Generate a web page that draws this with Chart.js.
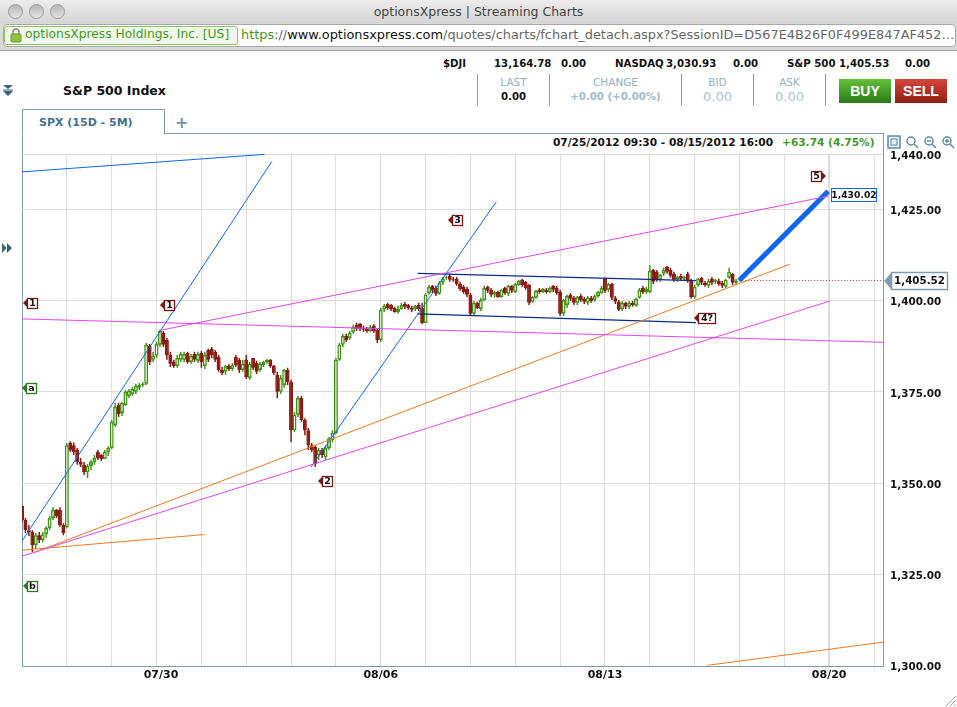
<!DOCTYPE html>
<html>
<head>
<meta charset="utf-8">
<title>optionsXpress | Streaming Charts</title>
<script src="https://cdn.jsdelivr.net/npm/chart.js@4"></script>
<style>
html, body { margin: 0; padding: 0; background: #fff; }
body { width: 957px; height: 707px; overflow: hidden; position: relative; font-family: 'DejaVu Sans', Verdana, sans-serif; }
.abs { position: absolute; white-space: nowrap; }
.b { font-weight: bold; font-size: 10.2px; color: #111; }
.sep { position: absolute; width: 1px; top: 74px; height: 32px; background: #7fa3b8; }
.hd { font-size: 10.5px; color: #8fb1c5; text-align: center; }
.dot { position: absolute; top: 4px; width: 13px; height: 13px; border-radius: 50%; background: linear-gradient(#b5b5b5, #e4e4e4); border: 1px solid #9b9b9b; }
.btn { position: absolute; top: 79px; width: 52px; height: 24px; color: #fff; font: bold 14px 'Liberation Sans', Arial, sans-serif; text-align: center; line-height: 24px; }
canvas { position: absolute; left: 0; top: 0; }
</style>
</head>
<body>
<div class="abs" style="left:0;top:0;width:957px;height:23px;background:linear-gradient(#ececec,#d4d4d4)"></div>
<div class="dot" style="left:8px"></div>
<div class="dot" style="left:29px"></div>
<div class="dot" style="left:50px"></div>
<div class="abs" style="left:0;width:957px;top:4px;text-align:center;font-size:12.5px;color:#444">optionsXpress | Streaming Charts</div>
<div class="abs" style="left:0;top:23px;width:957px;height:27px;background:#d9d9d9;border-bottom:1px solid #9c9c9c"></div>
<div class="abs" style="left:3px;top:24px;width:951px;height:21px;background:#fff;border:1px solid #a8a8a8;border-radius:4px"></div>
<div class="abs" style="left:4px;top:26px;width:232px;height:17px;background:#f1f8ea;border:1px solid #8cc06a;border-radius:3px"></div>
<svg class="abs" style="left:9px;top:27px" width="14" height="16"><path d="M4 8V5a3 3 0 0 1 6 0v3" fill="none" stroke="#888" stroke-width="1.5"/><rect x="2" y="7" width="10" height="8" rx="1" fill="#8fc23f" stroke="#6b9a2c"/></svg>
<div class="abs" style="left:25px;top:27px;font-size:12.3px;color:#3f9a1f">optionsXpress Holdings, Inc. [US]</div>
<div class="abs" style="left:241px;top:27px;font-size:12.9px;color:#666"><span style="color:#3f9a1f">https</span>://<span style="color:#111">www.optionsxpress.com</span>/quotes/charts/fchart_detach.aspx?SessionID=D567E4B26F0F499E847AF452…</div>

<div class="abs b" style="left:443px;top:58px">$DJI</div>
<div class="abs b" style="left:494px;top:58px">13,164.78</div>
<div class="abs b" style="left:561px;top:58px">0.00</div>
<div class="abs b" style="left:615px;top:58px">NASDAQ</div>
<div class="abs b" style="left:666px;top:58px">3,030.93</div>
<div class="abs b" style="left:733px;top:58px">0.00</div>
<div class="abs b" style="left:787px;top:58px">S&amp;P 500</div>
<div class="abs b" style="left:839px;top:58px">1,405.53</div>
<div class="abs b" style="left:905px;top:58px">0.00</div>

<svg class="abs" style="left:3px;top:85px" width="11" height="12"><path d="M0 0H10L5 4ZM0 6H10L5 11Z M0 4.6H10V5.6H0Z" fill="#34607f"/></svg>
<div class="abs" style="left:63px;top:83px;font-size:12.5px;font-weight:bold;color:#111">S&amp;P 500 Index</div>

<div class="sep" style="left:477px"></div>
<div class="sep" style="left:549px"></div>
<div class="sep" style="left:681px"></div>
<div class="sep" style="left:753px"></div>
<div class="sep" style="left:825px"></div>
<div class="abs hd" style="left:478px;width:71px;top:76px">LAST</div>
<div class="abs b" style="left:478px;width:71px;top:91px;text-align:center">0.00</div>
<div class="abs hd" style="left:550px;width:131px;top:76px">CHANGE</div>
<div class="abs b" style="left:550px;width:131px;top:91px;text-align:center;color:#9dbccd">+0.00 (+0.00%)</div>
<div class="abs hd" style="left:682px;width:71px;top:76px">BID</div>
<div class="abs" style="left:682px;width:71px;top:89px;text-align:center;font-size:13px;color:#a9c4d3">0.00</div>
<div class="abs hd" style="left:754px;width:71px;top:76px">ASK</div>
<div class="abs" style="left:754px;width:71px;top:89px;text-align:center;font-size:13px;color:#a9c4d3">0.00</div>
<div class="btn" style="left:839px;background:linear-gradient(#62bf3a,#2c7a18)">BUY</div>
<div class="btn" style="left:895px;background:linear-gradient(#d5463a,#8f1f14)">SELL</div>

<div class="abs" style="left:22px;top:133px;width:860px;height:532px;border:1px solid #7c9db2;background:#fff"></div>
<div class="abs" style="left:22px;top:109px;width:141px;height:24px;border:1px solid #7c9db2;border-bottom:1px solid #fff;background:#fff"></div>
<div class="abs" style="left:39px;top:116px;font-size:11px;font-weight:bold;color:#44708f">SPX (15D - 5M)</div>
<div class="abs" style="left:175px;top:113px;font-size:16px;font-weight:bold;color:#6f93a8">+</div>
<div class="abs b" style="left:553px;top:136px;font-size:10.6px">07/25/2012 09:30 - 08/15/2012 16:00</div>
<div class="abs b" style="left:782px;top:136px;font-size:10.6px;color:#3f9a1f">+63.74 (4.75%)</div>

<svg class="abs" style="left:887px;top:135px" width="68" height="16">
<rect x="1" y="1" width="12" height="12" fill="#e3edf2" stroke="#5f8aa3" stroke-width="1.5"/><rect x="4" y="4" width="6" height="6" fill="none" stroke="#5f8aa3"/>
<g fill="none" stroke="#5f8aa3" stroke-width="1.5"><circle cx="24" cy="6" r="4"/><path d="M27 9l4 4"/><circle cx="42" cy="6" r="4"/><path d="M45 9l4 4M40 6h4"/><circle cx="60" cy="6" r="4"/><path d="M63 9l4 4M58 6h4M60 4v4"/></g>
</svg>
<svg class="abs" style="left:2px;top:243px" width="11" height="10"><path d="M0 0L4.5 5L0 10ZM5 0L10 5L5 10Z" fill="#34607f"/></svg>
<svg class="abs" style="left:945px;top:695px" width="12" height="12"><path d="M11 1L1 11M11 5L5 11M11 9L9 11" stroke="#aaa" fill="none"/></svg>

<canvas id="spxChart" width="957" height="707"></canvas>

<script>
// 30 min candles, 13 per session, 07/25 - 08/15
const opens = [
  1343.7,1339.9,1337.1,1336.6,1333.0,1335.7,1334.4,1336.0,1337.7,1340.4,1342.7,1342.7,1338.5,
  1337.9,1361.0,1360.4,1359.1,1355.8,1355.0,1353.0,1354.7,1355.8,1358.5,1357.7,1356.6,1358.5,
  1359.6,1365.9,1371.4,1369.2,1371.4,1373.9,1374.4,1375.0,1376.1,1376.9,1377.2,1387.6,1383.8,
  1384.9,1387.9,1391.2,1389.2,1385.1,1383.2,1382.1,1383.8,1383.8,1385.7,1383.2,1385.4,1383.5,
  1385.7,1382.1,1386.5,1386.8,1386.0,1384.6,1381.0,1380.5,1382.1,1381.3,1384.6,1383.8,1381.0,
  1383.8,1378.8,1384.3,1382.9,1381.0,1382.4,1383.2,1383.8,1382.1,1379.6,1375.0,1376.9,1381.0,
  1377.7,1364.5,1368.7,1373.3,1367.3,1364.5,1360.4,1359.9,1357.7,1359.1,1357.1,1359.6,1361.8,
  1363.7,1383.8,1387.9,1390.3,1389.8,1391.4,1393.4,1393.6,1392.5,1392.3,1391.7,1393.1,1392.0,
  1389.2,1397.5,1399.1,1398.8,1398.0,1396.9,1397.7,1399.1,1398.8,1398.0,1397.7,1398.8,1398.0,
  1393.9,1402.1,1404.1,1403.5,1401.9,1404.9,1406.3,1406.8,1406.0,1406.0,1404.6,1403.8,1403.2,
  1401.6,1396.4,1399.4,1397.7,1400.2,1403.8,1403.0,1401.6,1402.4,1401.0,1403.5,1401.9,1404.1,
  1402.4,1404.3,1405.7,1405.2,1404.3,1399.7,1400.8,1403.0,1402.4,1403.0,1402.4,1404.1,1403.5,
  1402.4,1396.4,1398.8,1401.6,1400.8,1399.4,1401.3,1400.5,1399.4,1400.8,1400.2,1401.3,1402.1,
  1406.0,1403.0,1404.6,1400.8,1399.7,1397.7,1399.4,1398.3,1399.4,1398.6,1400.8,1403.5,1402.4,
  1402.4,1408.4,1407.9,1405.7,1407.4,1409.3,1408.4,1407.4,1405.7,1406.8,1406.0,1407.4,1405.7,
  1401.0,1404.3,1406.3,1404.9,1404.1,1406.0,1405.2,1405.4,1404.9,1403.8,1406.3,1407.4,1404.9
];
const highs = [
  1344.0,1340.4,1338.5,1337.1,1336.3,1336.6,1336.6,1338.2,1341.0,1343.4,1342.9,1343.4,1339.0,
  1361.0,1361.5,1361.2,1359.6,1356.9,1355.8,1355.2,1356.3,1357.7,1359.1,1358.0,1359.1,1360.1,
  1367.3,1372.0,1372.0,1372.2,1375.5,1375.8,1376.4,1377.2,1377.4,1377.7,1388.4,1388.1,1386.0,
  1388.7,1392.0,1391.7,1389.8,1386.0,1383.8,1385.1,1386.0,1386.0,1386.0,1385.4,1386.0,1386.0,
  1386.2,1386.0,1386.8,1387.3,1386.5,1385.1,1381.8,1382.4,1382.7,1382.9,1385.1,1384.3,1383.8,
  1385.1,1383.2,1384.3,1383.5,1383.2,1383.5,1384.0,1384.0,1382.4,1380.5,1379.6,1381.3,1381.6,
  1378.3,1369.5,1373.9,1373.9,1367.8,1365.1,1361.0,1360.4,1359.6,1359.6,1360.4,1362.6,1364.5,
  1384.3,1388.4,1390.9,1390.9,1391.7,1393.4,1393.9,1393.9,1393.1,1392.8,1393.4,1393.6,1392.5,
  1398.0,1399.1,1399.4,1399.1,1398.3,1398.6,1399.4,1399.7,1399.1,1398.6,1398.8,1399.4,1399.4,
  1402.1,1404.3,1404.3,1404.1,1405.4,1406.5,1406.8,1407.4,1406.5,1406.5,1405.2,1404.3,1403.8,
  1402.1,1399.9,1399.7,1400.8,1404.1,1404.1,1403.5,1402.7,1402.7,1403.2,1403.8,1404.3,1404.3,
  1404.9,1405.7,1406.0,1405.4,1404.6,1401.3,1403.0,1403.5,1403.5,1403.5,1403.8,1404.3,1404.1,
  1403.0,1400.5,1401.6,1402.1,1401.3,1401.3,1401.9,1401.0,1401.3,1401.3,1401.6,1402.7,1404.1,
  1406.3,1404.9,1404.9,1401.3,1400.2,1399.9,1399.7,1399.9,1399.9,1400.8,1403.5,1404.1,1403.8,
  1409.8,1408.7,1408.4,1407.4,1409.0,1409.5,1409.0,1407.9,1406.8,1407.4,1406.8,1407.9,1406.0,
  1404.3,1406.3,1406.5,1405.4,1406.0,1406.5,1406.0,1406.0,1405.4,1406.0,1409.0,1407.6,1406.0
];
const lows = [
  1339.3,1336.3,1335.5,1331.1,1331.9,1333.6,1333.8,1335.0,1337.1,1339.9,1340.4,1338.0,1335.7,
  1337.6,1358.5,1357.7,1355.0,1354.4,1352.2,1351.4,1353.6,1355.0,1356.3,1356.0,1356.6,1357.4,
  1359.3,1365.4,1368.1,1368.4,1371.1,1373.3,1373.9,1374.4,1375.5,1376.4,1376.9,1382.4,1383.2,
  1384.3,1387.3,1387.3,1383.8,1381.8,1381.6,1381.6,1383.2,1383.2,1382.7,1382.7,1383.2,1382.9,
  1381.6,1381.3,1383.2,1384.3,1383.2,1380.5,1379.6,1379.6,1380.7,1380.7,1381.8,1380.2,1380.5,
  1378.5,1378.3,1381.0,1379.9,1380.5,1381.8,1382.7,1381.6,1379.6,1373.3,1374.4,1376.1,1376.9,
  1361.2,1364.0,1368.1,1366.8,1363.1,1359.1,1358.5,1354.4,1356.3,1356.9,1356.3,1359.1,1361.2,
  1363.4,1383.5,1387.3,1388.7,1389.2,1390.9,1391.7,1391.7,1391.4,1391.2,1391.4,1391.2,1388.4,
  1388.7,1396.9,1397.5,1397.2,1396.7,1396.4,1397.5,1397.7,1397.5,1396.9,1397.2,1397.2,1393.6,
  1393.9,1401.6,1402.1,1401.3,1401.6,1404.3,1405.7,1405.2,1405.2,1404.1,1402.7,1401.9,1401.0,
  1395.8,1396.1,1397.7,1397.2,1399.9,1402.1,1401.0,1400.8,1400.8,1400.8,1401.6,1401.3,1402.1,
  1402.1,1404.1,1403.8,1403.0,1398.8,1399.4,1400.5,1401.9,1402.1,1401.9,1402.1,1402.4,1401.6,
  1395.8,1395.8,1398.0,1399.9,1398.8,1398.8,1399.7,1399.1,1398.8,1399.4,1399.7,1400.8,1401.9,
  1402.1,1402.4,1400.2,1399.1,1397.2,1397.2,1397.7,1397.7,1398.3,1398.3,1400.5,1401.9,1401.9,
  1402.1,1404.6,1405.2,1405.2,1406.8,1407.4,1406.3,1405.2,1405.2,1405.4,1405.4,1404.9,1400.5,
  1400.5,1403.8,1404.3,1403.8,1403.5,1404.3,1404.6,1404.1,1403.5,1403.5,1406.0,1404.3,1404.3
];
const closes = [
  1339.9,1337.1,1336.6,1333.0,1335.7,1334.4,1336.0,1337.7,1340.4,1342.7,1341.0,1338.5,1336.3,
  1360.4,1359.1,1358.5,1355.8,1355.0,1353.0,1354.7,1355.8,1356.9,1356.9,1356.6,1358.5,1359.6,
  1366.8,1370.9,1368.9,1372.0,1375.0,1375.3,1375.8,1376.6,1376.9,1377.2,1387.9,1383.2,1384.9,
  1388.1,1391.7,1387.9,1385.1,1382.7,1382.1,1384.3,1385.4,1385.4,1383.2,1384.9,1383.8,1385.4,
  1383.2,1385.1,1383.8,1385.1,1383.8,1381.0,1380.2,1382.1,1381.3,1382.4,1382.4,1381.0,1382.7,
  1379.1,1382.7,1381.6,1380.5,1382.7,1383.2,1383.8,1382.1,1380.2,1375.0,1378.8,1381.0,1377.7,
  1364.5,1368.7,1373.3,1367.3,1364.5,1360.4,1359.1,1355.2,1359.1,1357.7,1359.6,1362.3,1363.7,
  1383.8,1387.9,1390.3,1389.2,1391.2,1392.8,1392.3,1392.3,1392.0,1391.7,1392.8,1391.7,1389.2,
  1397.5,1398.6,1398.0,1397.7,1396.9,1397.7,1398.8,1398.3,1398.0,1397.5,1398.6,1397.7,1393.9,
  1401.6,1403.8,1402.7,1401.9,1404.9,1406.0,1406.5,1405.7,1405.7,1404.6,1403.2,1402.4,1401.6,
  1396.4,1399.4,1398.0,1400.2,1403.5,1402.7,1401.6,1402.4,1401.0,1403.0,1402.1,1404.1,1402.7,
  1404.6,1405.4,1404.3,1403.5,1399.4,1401.0,1402.7,1402.4,1403.2,1402.4,1403.5,1403.0,1402.1,
  1396.4,1400.2,1401.3,1400.5,1399.4,1401.0,1400.2,1399.7,1400.8,1399.9,1401.3,1402.4,1403.5,
  1402.7,1404.6,1400.8,1399.7,1397.5,1399.4,1398.3,1399.4,1398.8,1400.5,1403.0,1402.4,1403.2,
  1408.2,1405.2,1405.7,1407.1,1408.4,1407.9,1406.8,1405.7,1406.5,1406.0,1406.5,1405.4,1401.0,
  1403.8,1406.0,1404.9,1404.3,1405.4,1404.9,1405.7,1404.6,1404.1,1405.7,1407.9,1404.9,1405.52
];

// drawn lines: [bar, price, bar, price]
const blueLines = [[0, 1435.3, 70.3, 1440.1], [0, 1334.1, 72.4, 1438.1], [83.8, 1354.4, 137.5, 1427.1]];
const forecastLine = [207.9, 1405.52, 233.7, 1430.02];
const magentaLines = [[0, 1395.0, 249.6, 1388.6], [40.2, 1391.9, 233.9, 1428.7], [0, 1330.0, 234.2, 1399.9]];
const orangeLines = [[3.1, 1330.8, 222.6, 1410.0], [0, 1331.6, 52.9, 1335.9], [198.3, 1300.0, 249.6, 1306.4]];
const navyLines = [[114.7, 1407.5, 195.4, 1405.5], [114.7, 1396.4, 195.4, 1394.0]];
const lastLine = [207.9, 1405.52, 249.6, 1405.52];

// wave counts on the chart
const markerLabels = ['1', '1', 'a', 'b', '2', '3', '4?', '5'];
const markerBars = [0.2, 39.9, 0.1, 0.2, 85.7, 123.6, 194.9, 233.1];
const markerPrices = [1399.4, 1398.8, 1376.1, 1321.7, 1350.6, 1422.2, 1395.3, 1434.1];
const markerColors = ['#7a1712', '#7a1712', '#2f7a1a', '#2f7a1a', '#7a1712', '#7a1712', '#7a1712', '#7a1712'];

const dayBars = [13, 26, 39, 52, 65, 78, 91, 104, 117, 130, 143, 156, 169, 182, 195, 208, 221, 234, 247];
const xTickLabels = ['07/30', '08/06', '08/13', '08/20'];
const xLabelBars = [40.3, 104, 169, 234];
const yTickValues = [1300, 1325, 1350, 1375, 1400, 1425, 1440];
const yTickLabels = ['1,300.00', '1,325.00', '1,350.00', '1,375.00', '1,400.00', '1,425.00', '1,440.00'];

const RED = '#8b1a12';
const GREEN = '#3f9414';
const GRID = '#dcdcdc';
const FONT = "'DejaVu Sans', Verdana, sans-serif";

function lineSet(seg, color, width, dash) {
    return {
        type: 'line',
        data: [{x: seg[0], y: seg[1]}, {x: seg[2], y: seg[3]}],
        borderColor: color,
        borderWidth: width,
        borderDash: dash || [],
        pointRadius: 0,
        order: 0
    };
}

const candleBars = opens.map((o, i) => i);
const isUp = opens.map((o, i) => closes[i] >= o);

const datasets = [
    {
        label: 'wick',
        data: candleBars.map(i => ({x: i, y: [lows[i], highs[i]]})),
        backgroundColor: isUp.map(u => u ? GREEN : RED),
        borderWidth: 0,
        inflateAmount: 0,
        barThickness: 1.5,
        grouped: false,
        order: 2
    },
    {
        label: 'body',
        data: candleBars.map(i => ({x: i, y: [opens[i], closes[i]]})),
        backgroundColor: isUp.map(u => u ? '#fff' : RED),
        borderColor: isUp.map(u => u ? GREEN : RED),
        borderWidth: 1.5,
        borderSkipped: false,
        inflateAmount: 0,
        barThickness: 4,
        grouped: false,
        order: 1
    }
];
magentaLines.forEach(s => datasets.push(lineSet(s, '#e445ee', 1)));
orangeLines.forEach(s => datasets.push(lineSet(s, '#f0791e', 1)));
navyLines.forEach(s => datasets.push(lineSet(s, '#0a2a8a', 1.2)));
blueLines.forEach(s => datasets.push(lineSet(s, '#0b66f0', 1)));
datasets.push(lineSet(lastLine, '#c8322a', 1, [1, 2]));
datasets.push(lineSet(forecastLine, '#0b66f0', 5));

function drawBox(ctx, x, y, w, h, border, lw, text, font) {
    ctx.fillStyle = '#fff';
    ctx.fillRect(x, y, w, h);
    ctx.strokeStyle = border;
    ctx.lineWidth = lw;
    ctx.strokeRect(x + 0.5, y + 0.5, w - 1, h - 1);
    ctx.fillStyle = '#111';
    ctx.font = font;
    ctx.textAlign = 'center';
    ctx.textBaseline = 'middle';
    ctx.fillText(text, x + w / 2, y + h / 2 + 0.5);
}

const annotations = {
    id: 'annotations',
    afterDatasetsDraw(chart) {
        const ctx = chart.ctx;
        const xs = chart.scales.x;
        const ys = chart.scales.y;
        ctx.save();
        markerLabels.forEach((t, i) => {
            const px = Math.round(xs.getPixelForValue(markerBars[i]));
            const py = Math.round(ys.getPixelForValue(markerPrices[i]));
            const w = t.length > 1 ? 18 : 11;
            const pointsRight = t === '5';
            const boxX = pointsRight ? px - 4 - w : px + 4;
            ctx.fillStyle = markerColors[i];
            ctx.beginPath();
            ctx.moveTo(px, py);
            ctx.lineTo(pointsRight ? px - 4 : px + 4, py - 4);
            ctx.lineTo(pointsRight ? px - 4 : px + 4, py + 4);
            ctx.fill();
            drawBox(ctx, boxX, py - 5, w, 11, markerColors[i], 1.3, t, 'bold 9.5px ' + FONT);
        });
        // forecast value
        const fx = xs.getPixelForValue(forecastLine[2]);
        const fy = ys.getPixelForValue(forecastLine[3]);
        drawBox(ctx, Math.round(fx) + 3, Math.round(fy) - 3, 46, 14, '#0b66f0', 1, '1,430.02', 'bold 9.2px ' + FONT);
        // last price flag on the axis
        const ly = Math.round(ys.getPixelForValue(lastLine[1]));
        const right = chart.chartArea.right;
        ctx.fillStyle = '#7c9db2';
        ctx.beginPath();
        ctx.moveTo(right + 1, ly);
        ctx.lineTo(right + 8, ly - 8);
        ctx.lineTo(right + 8, ly + 8);
        ctx.fill();
        drawBox(ctx, right + 8, ly - 9, 57, 18, '#7c9db2', 1.5, '1,405.52', 'bold 10.3px ' + FONT);
        ctx.restore();
    }
};

new Chart(document.getElementById('spxChart').getContext('2d'), {
    type: 'bar',
    data: { datasets: datasets },
    plugins: [annotations],
    options: {
        responsive: false,
        animation: false,
        layout: { padding: { left: 22, top: 154, right: 0, bottom: 0 } },
        plugins: { legend: { display: false }, tooltip: { enabled: false }, title: { display: false } },
        scales: {
            x: {
                type: 'linear',
                offset: false,
                min: 0,
                max: 249.6,
                border: { display: false },
                grid: {
                    offset: false,
                    drawTicks: false,
                    color: ctx => ctx.tick && xLabelBars[0] === ctx.tick.value ? 'transparent' : GRID,
                    lineWidth: ctx => ctx.tick && ctx.tick.value === 234 ? 2 : 1
                },
                afterBuildTicks: scale => {
                    scale.ticks = dayBars.concat(xLabelBars[0]).sort((a, b) => a - b).map(v => ({value: v}));
                },
                afterFit: scale => { scale.height = 41.5; },
                ticks: {
                    autoSkip: false,
                    maxRotation: 0,
                    padding: 3,
                    color: '#111',
                    font: { family: FONT, size: 11, weight: 'bold' },
                    callback: v => {
                        const k = xLabelBars.indexOf(v);
                        return k >= 0 ? xTickLabels[k] : '';
                    }
                }
            },
            y: {
                position: 'right',
                min: 1300,
                max: 1440.2,
                border: { display: false },
                grid: {
                    drawTicks: false,
                    color: ctx => ctx.tick && ctx.tick.value === 1300 ? 'transparent' : GRID
                },
                afterBuildTicks: scale => {
                    scale.ticks = yTickValues.map(v => ({value: v}));
                },
                afterFit: scale => { scale.width = 74; },
                ticks: {
                    autoSkip: false,
                    padding: 7,
                    labelOffset: 2,
                    color: '#111',
                    font: { family: FONT, size: 10.4, weight: 'bold' },
                    callback: v => yTickLabels[yTickValues.indexOf(v)]
                }
            }
        }
    }
});
</script>
</body>
</html>
